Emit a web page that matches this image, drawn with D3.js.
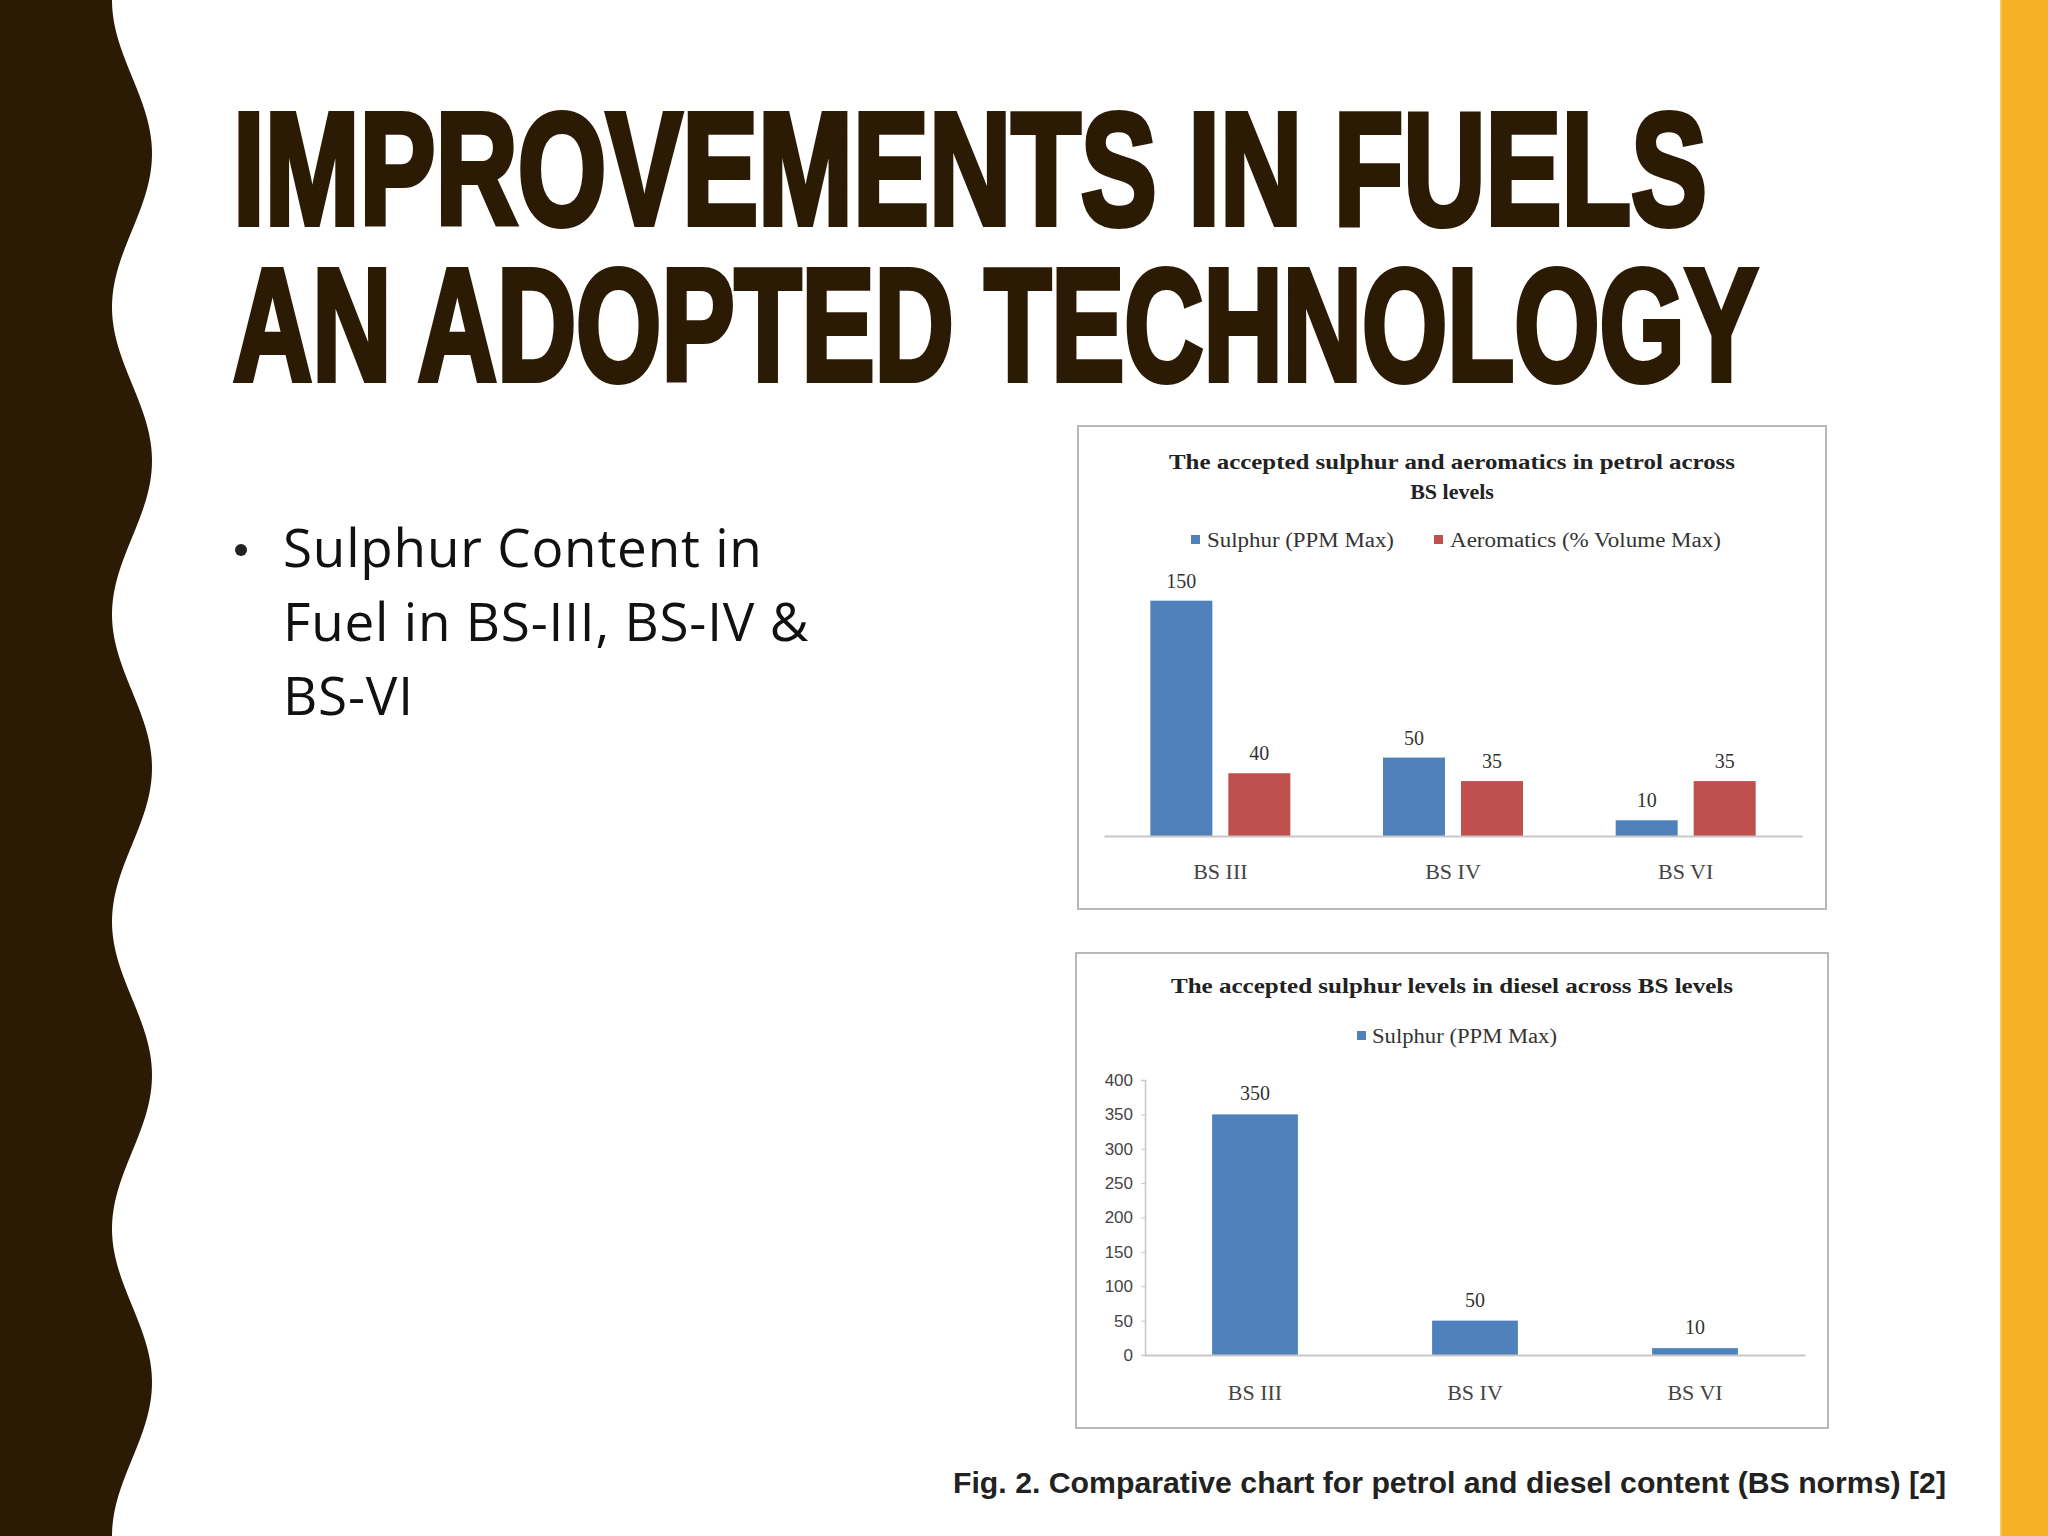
<!DOCTYPE html>
<html>
<head>
<meta charset="utf-8">
<script src="https://cdn.jsdelivr.net/npm/d3@7"></script>
<style>
  html, body { margin: 0; padding: 0; background: #ffffff; }
  svg { display: block; }
</style>
</head>
<body>
<script>
// ---------- data ----------
const categories = ["BS III", "BS IV", "BS VI"];
const petrolSeries = ["Sulphur (PPM Max)", "Aeromatics (% Volume Max)"];
const petrolSulphur = [150, 50, 10];
const petrolAromatics = [40, 35, 35];
const dieselSeries = ["Sulphur (PPM Max)"];
const dieselSulphur = [350, 50, 10];
const dieselTicks = [0, 50, 100, 150, 200, 250, 300, 350, 400];
const titleLines = ["IMPROVEMENTS IN FUELS", "AN ADOPTED TECHNOLOGY"];
const bulletLines = ["Sulphur Content in", "Fuel in BS-III, BS-IV &", "BS-VI"];
const chart1Title = ["The accepted sulphur and aeromatics in petrol across", "BS levels"];
const chart2Title = "The accepted sulphur levels in diesel across BS levels";
const caption = "Fig. 2. Comparative chart for petrol and diesel content (BS norms) [2]";

const BLUE = "#4f81bd", RED = "#c0504d", DARK = "#2b1b05";

const W = 2048, H = 1536;
const svg = d3.select("body").append("svg").attr("width", W).attr("height", H);
svg.append("rect").attr("width", W).attr("height", H).attr("fill", "#ffffff");

// ---------- decorative frame ----------
const period = H / 5;
const wavePts = d3.range(0, H + 1, 4).map(y => [132 - 20 * Math.cos(2 * Math.PI * y / period), y]);
const waveArea = d3.area().x0(0).x1(d => d[0]).y(d => d[1]).curve(d3.curveBasis);
svg.append("path").attr("d", waveArea(wavePts)).attr("fill", DARK);
svg.append("rect").attr("x", 2000).attr("y", 0).attr("width", 48).attr("height", H).attr("fill", "#f7b125");
svg.append("rect").attr("x", 2000).attr("y", 0).attr("width", 2).attr("height", H).attr("fill", "#f9c75a");

// ---------- slide title (condensed by horizontal scaling) ----------
const titleG = svg.append("g");
const titleWidths = [1474, 1525];
titleLines.forEach((t, i) => {
  const tx = titleG.append("text")
    .attr("x", 0).attr("y", 0)
    .attr("font-family", "'Liberation Sans Narrow', 'Liberation Sans', Arial, sans-serif")
    .attr("font-weight", "bold").attr("font-size", 160)
    .attr("fill", DARK).attr("stroke", DARK).attr("stroke-width", 6).attr("stroke-linejoin", "miter")
    .text(t);
  const natural = tx.node().getComputedTextLength();
  const sx = titleWidths[i] / natural;
  tx.attr("transform", `translate(233,${224 + i * 156}) scale(${sx},1)`);
});

// ---------- bullet ----------
svg.append("circle").attr("cx", 241).attr("cy", 550).attr("r", 6).attr("fill", "#222");
bulletLines.forEach((t, i) => {
  svg.append("text").attr("x", 283).attr("y", 567 + i * 74)
    .attr("font-family", "'Open Sans', 'Noto Sans', sans-serif").attr("font-size", 53)
    .attr("letter-spacing", 0.8)
    .attr("fill", "#111").text(t);
});

// ---------- chart 1: petrol ----------
const c1 = svg.append("g");
c1.append("rect").attr("x", 1078).attr("y", 426).attr("width", 748).attr("height", 483)
  .attr("fill", "#ffffff").attr("stroke", "#b8b8b8").attr("stroke-width", 2);
chart1Title.forEach((t, i) => {
  c1.append("text").attr("x", 1452).attr("y", 469 + i * 30).attr("text-anchor", "middle")
    .attr("font-family", "'Liberation Serif', 'Times New Roman', serif").attr("font-weight", "bold")
    .attr("font-size", 22).attr("fill", "#222")
    .attr("textLength", i === 0 ? 566 : null).attr("lengthAdjust", "spacingAndGlyphs")
    .text(t);
});
// legend
const leg1 = [[1191, 1207, BLUE, 187], [1434, 1450, RED, 271]];
petrolSeries.forEach((s, i) => {
  c1.append("rect").attr("x", leg1[i][0]).attr("y", 535).attr("width", 9).attr("height", 9).attr("fill", leg1[i][2]);
  c1.append("text").attr("x", leg1[i][1]).attr("y", 547)
    .attr("font-family", "'Liberation Serif', 'Times New Roman', serif").attr("font-size", 20)
    .attr("textLength", leg1[i][3]).attr("lengthAdjust", "spacingAndGlyphs")
    .attr("fill", "#333").text(s);
});
const x1 = d3.scaleBand().domain(categories).range([1104, 1802]);
const x1s = d3.scaleBand().domain(petrolSeries).range([x1.bandwidth() / 2 - 70, x1.bandwidth() / 2 + 70]).paddingInner(0.205);
const y1 = d3.scaleLinear().domain([0, 160]).range([836, 585]);
const petrolData = categories.map((c, i) => ({ cat: c, vals: [petrolSulphur[i], petrolAromatics[i]] }));
const grp1 = c1.selectAll("g.grp").data(petrolData).join("g").attr("class", "grp")
  .attr("transform", d => `translate(${x1(d.cat)},0)`);
grp1.selectAll("rect").data(d => d.vals.map((v, j) => ({ s: petrolSeries[j], v, j })))
  .join("rect")
  .attr("x", d => x1s(d.s)).attr("width", x1s.bandwidth())
  .attr("y", d => y1(d.v)).attr("height", d => y1(0) - y1(d.v))
  .attr("fill", d => d.j === 0 ? BLUE : RED);
grp1.selectAll("text.val").data(d => d.vals.map((v, j) => ({ s: petrolSeries[j], v })))
  .join("text").attr("class", "val")
  .attr("x", d => x1s(d.s) + x1s.bandwidth() / 2).attr("y", d => y1(d.v) - 13)
  .attr("text-anchor", "middle")
  .attr("font-family", "'Liberation Serif', 'Times New Roman', serif").attr("font-size", 20)
  .attr("fill", "#333").text(d => d.v);
const ax1 = c1.append("g").attr("transform", `translate(0,${y1(0)})`)
  .call(d3.axisBottom(x1).tickSize(0).tickPadding(27));
ax1.select(".domain").attr("stroke", "#c8c8c8").attr("stroke-width", 2);
ax1.selectAll("text").attr("font-family", "'Liberation Serif', 'Times New Roman', serif")
  .attr("font-size", 22).attr("fill", "#444");

// ---------- chart 2: diesel ----------
const c2 = svg.append("g");
c2.append("rect").attr("x", 1076).attr("y", 953).attr("width", 752).attr("height", 475)
  .attr("fill", "#ffffff").attr("stroke", "#b8b8b8").attr("stroke-width", 2);
c2.append("text").attr("x", 1452).attr("y", 993).attr("text-anchor", "middle")
  .attr("font-family", "'Liberation Serif', 'Times New Roman', serif").attr("font-weight", "bold")
  .attr("font-size", 22).attr("fill", "#222")
  .attr("textLength", 562).attr("lengthAdjust", "spacingAndGlyphs").text(chart2Title);
dieselSeries.forEach(s => {
  c2.append("rect").attr("x", 1357).attr("y", 1031).attr("width", 9).attr("height", 9).attr("fill", BLUE);
  c2.append("text").attr("x", 1372).attr("y", 1043)
    .attr("font-family", "'Liberation Serif', 'Times New Roman', serif").attr("font-size", 20)
    .attr("textLength", 185).attr("lengthAdjust", "spacingAndGlyphs")
    .attr("fill", "#333").text(s);
});
const x2 = d3.scaleBand().domain(categories).range([1145, 1805]).paddingInner(0.61).paddingOuter(0.305);
const y2 = d3.scaleLinear().domain([0, 400]).range([1355, 1080]);
c2.selectAll("rect.bar").data(categories.map((c, i) => ({ cat: c, v: dieselSulphur[i] })))
  .join("rect").attr("class", "bar")
  .attr("x", d => x2(d.cat)).attr("width", x2.bandwidth())
  .attr("y", d => y2(d.v)).attr("height", d => y2(0) - y2(d.v)).attr("fill", BLUE);
c2.selectAll("text.val").data(categories.map((c, i) => ({ cat: c, v: dieselSulphur[i] })))
  .join("text").attr("class", "val")
  .attr("x", d => x2(d.cat) + x2.bandwidth() / 2).attr("y", d => y2(d.v) - 14)
  .attr("text-anchor", "middle")
  .attr("font-family", "'Liberation Serif', 'Times New Roman', serif").attr("font-size", 20)
  .attr("fill", "#333").text(d => d.v);
const yAx2 = c2.append("g").attr("transform", "translate(1145,0)")
  .call(d3.axisLeft(y2).tickValues(dieselTicks).tickSize(4).tickPadding(8));
yAx2.select(".domain").attr("stroke", "#c8c8c8").attr("stroke-width", 1.5);
yAx2.selectAll(".tick line").attr("stroke", "#c8c8c8");
yAx2.selectAll("text").attr("font-family", "'Liberation Sans', Arial, sans-serif")
  .attr("font-size", 17).attr("fill", "#444");
const xAx2 = c2.append("g").attr("transform", `translate(0,${y2(0)})`)
  .call(d3.axisBottom(x2).tickSize(0).tickPadding(29));
xAx2.select(".domain").attr("stroke", "#c8c8c8").attr("stroke-width", 2);
xAx2.selectAll("text").attr("font-family", "'Liberation Serif', 'Times New Roman', serif")
  .attr("font-size", 22).attr("fill", "#444");

// ---------- caption ----------
svg.append("text").attr("x", 953).attr("y", 1493)
  .attr("font-family", "'Liberation Sans Narrow', 'Liberation Sans', Arial, sans-serif")
  .attr("font-weight", "bold").attr("font-size", 30).attr("fill", "#222")
  .attr("textLength", 993).attr("lengthAdjust", "spacingAndGlyphs").text(caption);
</script>
</body>
</html>
